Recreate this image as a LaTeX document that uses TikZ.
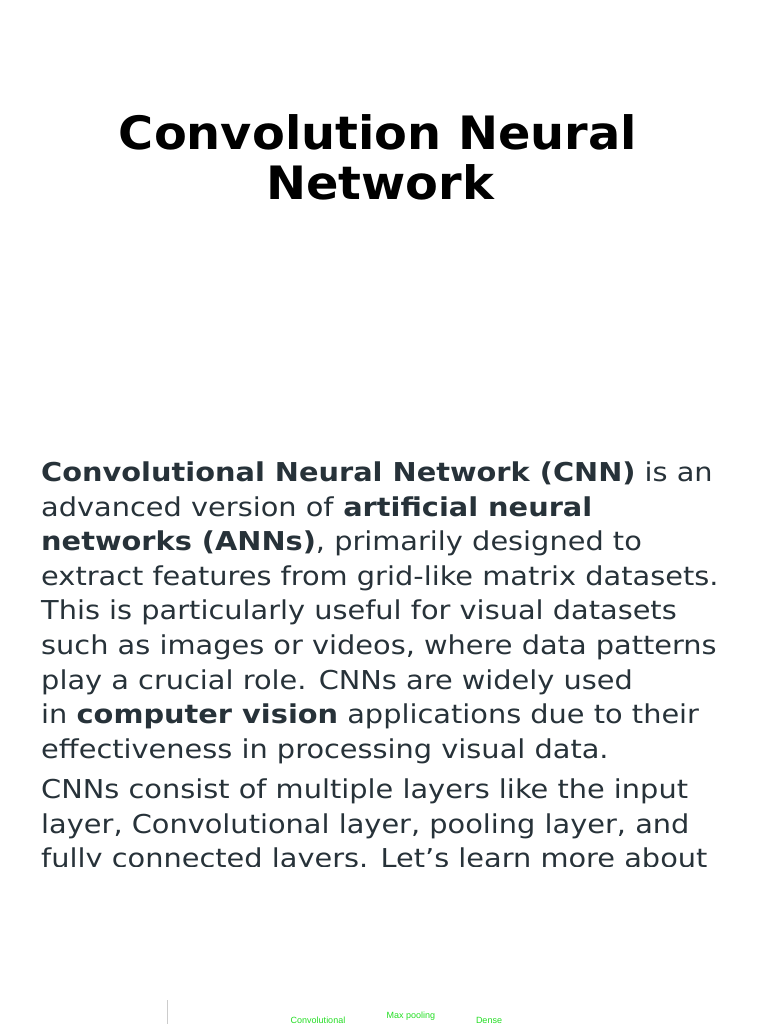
\documentclass[tikz,border=0pt]{standalone}
\usepackage{fontspec}
\setmainfont{DejaVu Sans}
\newfontfamily\smallsans{Liberation Sans}
\definecolor{bodytxt}{HTML}{273239}
\definecolor{lbl}{HTML}{22DD22}
\begin{document}
\begin{tikzpicture}[x=1pt,y=-1pt,
  ln/.style={anchor=base west,inner sep=0pt,xscale=1.108,font=\fontsize{26}{30}\selectfont,text=bodytxt},
  ttl/.style={anchor=base,inner sep=0pt,xscale=1.04,font=\fontsize{46}{50}\selectfont\bfseries},
  gl/.style={inner sep=0pt,font=\smallsans\fontsize{9}{10}\selectfont,text=lbl}]
\useasboundingbox (0,0) rectangle (768,1024);
\node[ttl] (t1) at (378,150) {Convolution Neural};
\node[ttl] (t2) at (380,200) {Network};
\begin{scope}
\clip (0,0) rectangle (768,866);
\node[ln] (l1) at (41,481) {\textbf{Convolutional Neural Network (CNN)} is an};
\node[ln] (l2) at (41,516) {advanced version of \textbf{artificial neural}};
\node[ln] (l3) at (41,550) {\textbf{networks (ANNs)}, primarily designed to};
\node[ln] (l4) at (41,585) {extract features from grid-like matrix datasets.};
\node[ln] (l5) at (41,619) {This is particularly useful for visual datasets};
\node[ln] (l6) at (41,654) {such as images or videos, where data patterns};
\node[ln] (l7) at (41,689) {play a crucial role. CNNs are widely used};
\node[ln] (l8) at (41,723) {in \textbf{computer vision} applications due to their};
\node[ln] (l9) at (41,758) {effectiveness in processing visual data.};
\node[ln] (l10) at (41,798) {CNNs consist of multiple layers like the input};
\node[ln] (l11) at (41,833) {layer, Convolutional layer, pooling layer, and};
\node[ln] (l12) at (41,867) {fully connected layers. Let{\char"27}s learn more about};
\end{scope}
\draw[gray!40,line width=0.8pt] (167,1000) -- (167,1024);
\node[gl] (g1) at (318,1020) {Convolutional};
\node[gl] (g2) at (411,1016) {Max pooling};
\node[gl] (g3) at (489,1020) {Dense};
\end{tikzpicture}
\end{document}
